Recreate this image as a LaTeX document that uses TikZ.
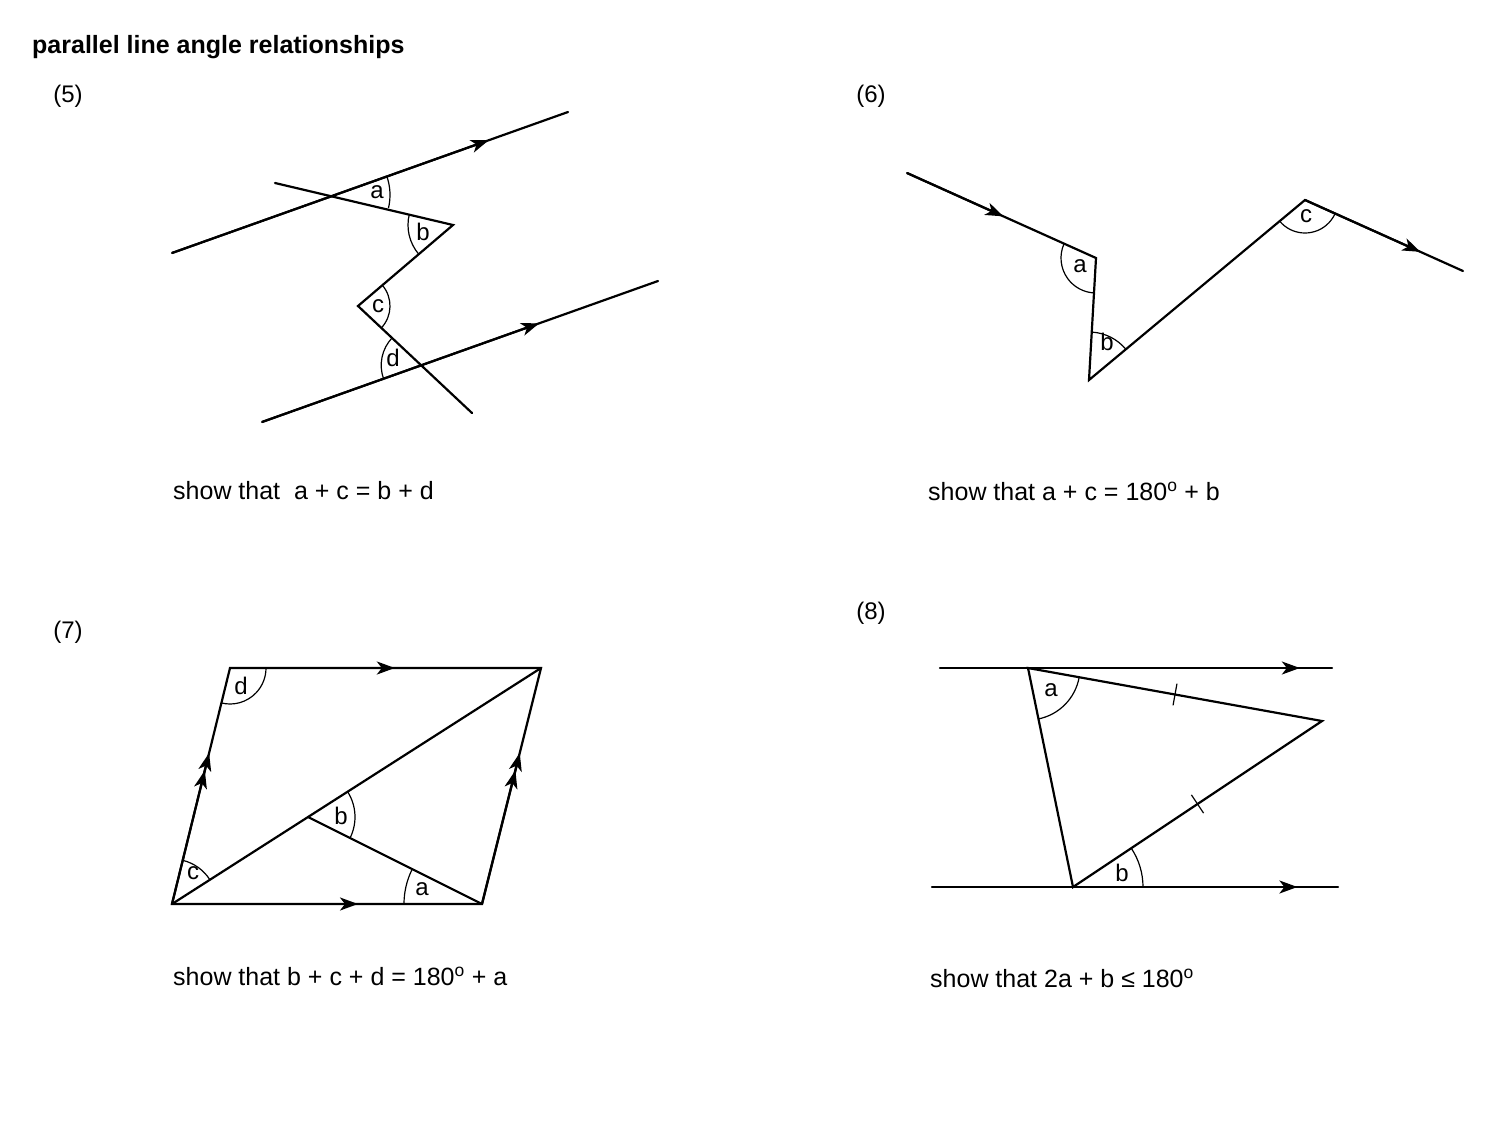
\documentclass[tikz,border=0pt]{standalone}
\usepackage{fontspec}
\setmainfont{Liberation Sans}
\usetikzlibrary{calc,arrows.meta}
\begin{document}
\begin{tikzpicture}[x=1pt,y=1pt,
  ln/.style={line width=2.2pt,line cap=round,line join=miter},
  ar/.style={line width=1.2pt},
  tip/.style={-{Stealth[length=18pt,width=13pt,inset=5pt]},line width=2.2pt},
  dtip/.style={-{Stealth[length=18pt,width=13pt,inset=5pt] Stealth[length=18pt,width=13pt,inset=5pt]},line width=2.2pt},
  lab/.style={font=\fontsize{24}{28}\selectfont,inner sep=0pt},
  txt/.style={font=\fontsize{25}{30}\selectfont,anchor=west,inner sep=0pt}]
\useasboundingbox (0,0) rectangle (1500,-1125);
\node[txt,font=\bfseries\fontsize{25}{30}\selectfont] (title) at (32,-47) {parallel line angle relationships};
% (5)
\node[lab] (n5) at (68,-96) {(5)};
\coordinate (l1a) at (172,-253); \coordinate (l1b) at (568,-112);
\coordinate (l2a) at (262,-422); \coordinate (l2b) at (658,-281);
\coordinate (t1) at (275,-183); \coordinate (t2) at (453,-225);
\coordinate (t3) at (358,-306); \coordinate (t4) at (472,-413);
\coordinate (x1) at (333,-195); \coordinate (x2) at (421.2,-365.3);
\draw[ln] (l1a) -- (l1b);
\draw[ln] (l2a) -- (l2b);
\draw[ln] (t1) -- (t2) -- (t3) -- (t4);
\draw[tip] (l1a) -- ($(l1a)!0.8!(l1b)$);
\draw[tip] (l2a) -- ($(l2a)!0.7!(l2b)$);
\draw[ar] (x1) ++(-13.3:57) arc[start angle=-13.3,end angle=19.6,radius=57];
\draw[ar] (t2) ++(166:45) arc[start angle=166,end angle=220.5,radius=45];
\draw[ar] (t3) ++(-43.2:32) arc[start angle=-43.2,end angle=40.5,radius=32];
\draw[ar] (x2) ++(136.9:40) arc[start angle=136.9,end angle=199.6,radius=40];
\node[lab] (a5) at (377,-192) {a};
\node[lab] (b5) at (423,-232) {b};
\node[lab] (c5) at (378,-306) {c};
\node[lab] (d5) at (393,-358) {d};
\node[txt] (s5) at (173,-491) {show that\ \ a + c = b + d};
% (6)
\node[lab] (n6) at (871,-96) {(6)};
\coordinate (p1) at (907,-173); \coordinate (p2) at (1096,-258);
\coordinate (p3) at (1089,-380); \coordinate (p4) at (1305,-200);
\coordinate (p5) at (1463,-271);
\draw[ln] (p1) -- (p2) -- (p3) -- (p4) -- (p5);
\draw[tip] (p1) -- ($(p1)!0.51!(p2)$);
\draw[tip] (p4) -- ($(p4)!0.73!(p5)$);
\draw[ar] (p2) ++(155.8:35) arc[start angle=155.8,end angle=266.7,radius=35];
\draw[ar] (p3) ++(39.8:48) arc[start angle=39.8,end angle=86.7,radius=48];
\draw[ar] (p4) ++(219.8:33) arc[start angle=219.8,end angle=335.8,radius=33];
\node[lab] (a6) at (1080,-266) {a};
\node[lab] (b6) at (1107,-342) {b};
\node[lab] (c6) at (1306,-216) {c};
\node[txt] (s6) at (928,-491) {show that a + c = 180\textsuperscript{o} + b};
% (7)
\node[lab] (n7) at (68,-632) {(7)};
\coordinate (A) at (172,-904); \coordinate (B) at (482,-904);
\coordinate (C) at (541,-668); \coordinate (D) at (230,-668);
\coordinate (P) at (308,-817);
\draw[ln] (A) -- (B) -- (C) -- (D) -- cycle;
\draw[ln] (A) -- (C);
\draw[ln] (B) -- (P);
\draw[tip] (A) -- ($(A)!0.6!(B)$);
\draw[tip] (D) -- ($(D)!0.53!(C)$);
\draw[dtip] (A) -- ($(A)!0.64!(D)$);
\draw[dtip] (B) -- ($(B)!0.64!(C)$);
\draw[ar] (D) ++(256.2:36) arc[start angle=256.2,end angle=360,radius=36];
\draw[ar] (A) ++(32.6:45) arc[start angle=32.6,end angle=76.2,radius=45];
\draw[ar] (P) ++(-26.3:47) arc[start angle=-26.3,end angle=32.6,radius=47];
\draw[ar] (B) ++(153.7:78) arc[start angle=153.7,end angle=180,radius=78];
\node[lab] (d7) at (241,-686) {d};
\node[lab] (c7) at (193,-873) {c};
\node[lab] (b7) at (341,-816) {b};
\node[lab] (a7) at (422,-889) {a};
\node[txt] (s7) at (173,-976) {show that b + c + d = 180\textsuperscript{o} + a};
% (8)
\node[lab] (n8) at (871,-613) {(8)};
\coordinate (u1) at (940,-668); \coordinate (u2) at (1332,-668);
\coordinate (v1) at (932,-887); \coordinate (v2) at (1338,-887);
\coordinate (T) at (1028,-668); \coordinate (R) at (1322,-721);
\coordinate (S) at (1073,-887);
\coordinate (mTR) at ($(T)!0.5!(R)$);
\coordinate (mRS) at ($(R)!0.5!(S)$);
\draw[ln] (u1) -- (u2);
\draw[ln] (v1) -- (v2);
\draw[tip] (u1) -- ($(u1)!0.918!(u2)$);
\draw[tip] (v1) -- ($(v1)!0.9!(v2)$);
\draw[ln] (T) -- (R) -- (S) -- cycle;
\draw[ar] ($(mTR)!11pt!90:(R)$) -- ($(mTR)!11pt!-90:(R)$);
\draw[ar] ($(mRS)!11pt!90:(S)$) -- ($(mRS)!11pt!-90:(S)$);
\draw[ar] (T) ++(-78.4:52) arc[start angle=-78.4,end angle=-10.2,radius=52];
\draw[ar] (S) ++(0:70) arc[start angle=0,end angle=33.7,radius=70];
\node[lab] (a8) at (1051,-690) {a};
\node[lab] (b8) at (1122,-873) {b};
\node[txt] (s8) at (930,-978) {show that 2a + b ≤ 180\textsuperscript{o}};
\end{tikzpicture}
\end{document}
